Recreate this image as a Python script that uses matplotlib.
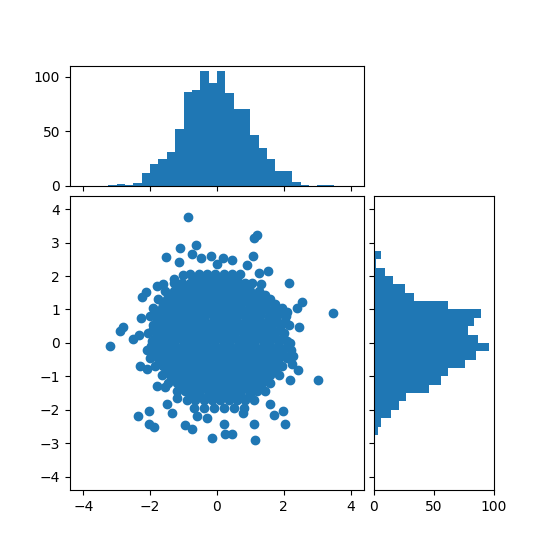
import numpy as np
import matplotlib
matplotlib.use('Agg')
from matplotlib import pyplot as plt

# histogram bins: -4 .. 4 in steps of 0.25
bin_edges = np.arange(-4, 4.01, 0.25)
x_counts = [0, 0, 0, 1, 2, 1, 3, 12, 20, 25, 31, 52, 86, 88, 105, 94,
            105, 85, 71, 71, 47, 35, 25, 14, 14, 4, 1, 0, 1, 1, 0, 0]
y_counts = [0, 0, 0, 0, 1, 3, 6, 14, 21, 27, 46, 56, 62, 76, 85, 96,
            87, 78, 83, 89, 62, 33, 26, 16, 9, 2, 6, 0, 1, 0, 0, 0]

# scattered outer points
outer_x = [-0.87, 1.11, 1.21, -1.1, -0.63, -1.51, -0.76, -1.13, -0.47, -0.17, 0.18, 0.44,
           1.07, 0.9, 1.25, 1.53, 1.31, 2.15, 2.55, 2.39, 3.47, 2.46, 3.02, 2.18, 2.42,
           2.04, 1.98, 1.7, 1.13, 1.11, 0.46, 0.24, -0.14, 0.22, -0.96, -0.76, -1.87,
           -2.03, -2.35, -2.02, -1.48, -1.34, -3.19, -2.9, -2.8, -2.51, -2.32, -2.25,
           -2.13, -1.8, -1.6, -2.28, -2.3, -2.1, -1.78, -1.55, -1.2, -0.6, -0.31, 0.79,
           1.58, 2.23, 2.18, 2.28, 2.08, 1.88, -1.3, -1.02, -0.01, 0.59]
outer_y = [3.77, 3.14, 3.22, 2.84, 2.93, 2.58, 2.65, 2.42, 2.55, 2.61, 2.55, 2.48,
           2.6, 2.32, 2.09, 2.15, 1.76, 1.79, 1.23, 1.03, 0.9, 0.47, -1.11, -1.1, -0.8,
           -2.41, -2.05, -2.17, -2.89, -2.41, -2.71, -2.71, -2.83, -2.42, -2.45, -2.56,
           -2.5, -2.43, -2.2, -2.04, -1.84, -2.09, -0.1, 0.36, 0.49, 0.11, 0.23, 1.38,
           1.51, 1.71, 1.76, 0.75, -0.69, -0.77, -1.29, -1.31, -1.64, -2.19, -2.24,
           -2.09, -1.84, -0.64, 0.01, -0.39, 0.91, 0.96, 1.91, 2.03, 2.36, 1.91]

# dense core, row by row: (y, x values)
core_rows = [
    (2.05, [-0.8, -0.55, -0.3, -0.05, 0.2, 0.45, 0.7]),
    (1.92, [-0.65, -0.42, -0.18, 0.08, 0.32, 0.58]),
    (1.8, [-1.3, -1.05, -0.8, -0.6, -0.35, -0.1, 0.15, 0.35, 0.6, 0.85, 1.05]),
    (1.67, [-1.18, -0.93, -0.7, -0.47, -0.22, 0.02, 0.25, 0.48, 0.72, 0.95]),
    (1.55, [-1.55, -1.3, -1.1, -0.85, -0.6, -0.4, -0.15, 0.1, 0.3, 0.55, 0.8, 1.0, 1.25]),
    (1.42, [-1.4, -1.18, -0.97, -0.72, -0.5, -0.27, -0.02, 0.22, 0.43, 0.68, 0.9, 1.13, 1.45]),
    (1.3, [-1.75, -1.5, -1.25, -1.05, -0.8, -0.55, -0.35, -0.1, 0.15, 0.4, 0.6, 0.85, 1.1, 1.35, 1.6]),
    (1.17, [-1.62, -1.38, -1.15, -0.92, -0.68, -0.45, -0.22, 0.03, 0.28, 0.5, 0.73, 0.98, 1.22, 1.48, 1.75]),
    (1.05, [-1.9, -1.65, -1.4, -1.2, -0.95, -0.7, -0.5, -0.25, 0.0, 0.25, 0.45, 0.7, 0.95, 1.2, 1.45, 1.7, 1.95]),
    (0.92, [-1.78, -1.52, -1.3, -1.08, -0.83, -0.6, -0.37, -0.12, 0.12, 0.35, 0.58, 0.82, 1.08, 1.32, 1.58, 1.82]),
    (0.8, [-2.0, -1.75, -1.5, -1.3, -1.05, -0.8, -0.6, -0.35, -0.1, 0.15, 0.35, 0.6, 0.85, 1.1, 1.3, 1.55, 1.8, 2.05]),
    (0.67, [-1.78, -1.57, -1.33, -1.08, -0.85, -0.62, -0.38, -0.12, 0.1, 0.33, 0.58, 0.83, 1.05, 1.28, 1.52, 1.78, 2.02]),
    (0.55, [-1.9, -1.65, -1.45, -1.2, -0.95, -0.75, -0.5, -0.25, 0.0, 0.2, 0.45, 0.7, 0.95, 1.15, 1.4, 1.65, 1.9, 2.15]),
    (0.42, [-1.92, -1.68, -1.42, -1.2, -0.98, -0.73, -0.5, -0.28, -0.03, 0.2, 0.43, 0.68, 0.93, 1.15, 1.38, 1.62, 1.88]),
    (0.3, [-2.05, -1.8, -1.55, -1.3, -1.1, -0.85, -0.6, -0.4, -0.15, 0.1, 0.3, 0.55, 0.8, 1.05, 1.25, 1.5, 1.75, 2.0]),
    (0.17, [-1.82, -1.58, -1.35, -1.12, -0.88, -0.62, -0.4, -0.17, 0.08, 0.3, 0.52, 0.78, 1.02, 1.28, 1.5, 1.72, 1.98]),
    (0.05, [-1.95, -1.7, -1.45, -1.25, -1.0, -0.75, -0.5, -0.3, -0.05, 0.2, 0.4, 0.65, 0.9, 1.15, 1.4, 1.6, 1.85, 2.1]),
    (-0.08, [-1.98, -1.72, -1.48, -1.25, -1.03, -0.78, -0.53, -0.3, -0.07, 0.18, 0.4, 0.62, 0.88, 1.12, 1.38, 1.6, 1.82, 2.08]),
    (-0.2, [-2.1, -1.85, -1.6, -1.35, -1.15, -0.9, -0.65, -0.4, -0.2, 0.05, 0.3, 0.5, 0.75, 1.0, 1.25, 1.5, 1.7, 1.95, 2.2]),
    (-0.33, [-1.88, -1.62, -1.38, -1.12, -0.9, -0.67, -0.43, -0.18, 0.05, 0.28, 0.52, 0.78, 1.0, 1.22, 1.48, 1.72, 1.98]),
    (-0.45, [-2.0, -1.75, -1.5, -1.25, -1.0, -0.8, -0.55, -0.3, -0.05, 0.15, 0.4, 0.65, 0.9, 1.1, 1.35, 1.6, 1.85, 2.1]),
    (-0.58, [-1.72, -1.48, -1.25, -1.02, -0.78, -0.55, -0.32, -0.08, 0.17, 0.4, 0.63, 0.88, 1.12, 1.35, 1.58, 1.82]),
    (-0.7, [-1.85, -1.6, -1.35, -1.15, -0.9, -0.65, -0.45, -0.2, 0.05, 0.3, 0.5, 0.75, 1.0, 1.25, 1.45, 1.7, 1.95]),
    (-0.83, [-1.52, -1.28, -1.05, -0.82, -0.58, -0.33, -0.1, 0.12, 0.37, 0.6, 0.83, 1.07, 1.3, 1.52, 1.75]),
    (-0.95, [-1.65, -1.4, -1.2, -0.95, -0.7, -0.5, -0.25, 0.0, 0.2, 0.45, 0.7, 0.9, 1.15, 1.4, 1.6, 1.85]),
    (-1.08, [-1.32, -1.08, -0.85, -0.62, -0.38, -0.15, 0.1, 0.33, 0.57, 0.8, 1.03, 1.27, 1.5]),
    (-1.2, [-1.45, -1.2, -1.0, -0.75, -0.5, -0.3, -0.05, 0.2, 0.4, 0.65, 0.9, 1.1, 1.35, 1.6]),
    (-1.33, [-1.08, -0.85, -0.62, -0.38, -0.13, 0.1, 0.33, 0.57, 0.82, 1.07, 1.32]),
    (-1.45, [-1.2, -0.95, -0.7, -0.5, -0.25, 0.0, 0.25, 0.45, 0.7, 0.95, 1.2, 1.45]),
    (-1.58, [-0.8, -0.52, -0.28, -0.03, 0.22, 0.48, 0.72, 0.98]),
    (-1.7, [-0.9, -0.65, -0.4, -0.15, 0.1, 0.35, 0.6, 0.85, 1.1]),
    (-1.95, [-0.7, -0.4, -0.1, 0.2, 0.5, 0.8]),
]

core_x = [x for _, xs in core_rows for x in xs]
core_y = [y for y, xs in core_rows for _ in xs]

fig = plt.figure(figsize=(5.5, 5.5), dpi=100)
ax = fig.add_axes([0.127, 0.109, 0.535, 0.535])
ax_histx = fig.add_axes([0.127, 0.662, 0.535, 0.218], sharex=ax)
ax_histy = fig.add_axes([0.68, 0.109, 0.218, 0.535], sharey=ax)

ax.scatter(outer_x + core_x, outer_y + core_y, color='#1f77b4')
ax_histx.bar(bin_edges[:-1], x_counts, width=0.25, align='edge', color='#1f77b4')
ax_histy.barh(bin_edges[:-1], y_counts, height=0.25, align='edge', color='#1f77b4')

ax.set_xlim(-4.4, 4.4)
ax.set_ylim(-4.4, 4.4)
ax.set_xticks([-4, -2, 0, 2, 4])
ax.set_yticks([-4, -3, -2, -1, 0, 1, 2, 3, 4])
ax_histx.set_ylim(0, 110)
ax_histx.set_yticks([0, 50, 100])
ax_histy.set_xlim(0, 100)
ax_histy.set_xticks([0, 50, 100])
ax_histx.tick_params(axis='x', labelbottom=False)
ax_histy.tick_params(axis='y', labelleft=False)

plt.savefig('out.png', dpi=100)
